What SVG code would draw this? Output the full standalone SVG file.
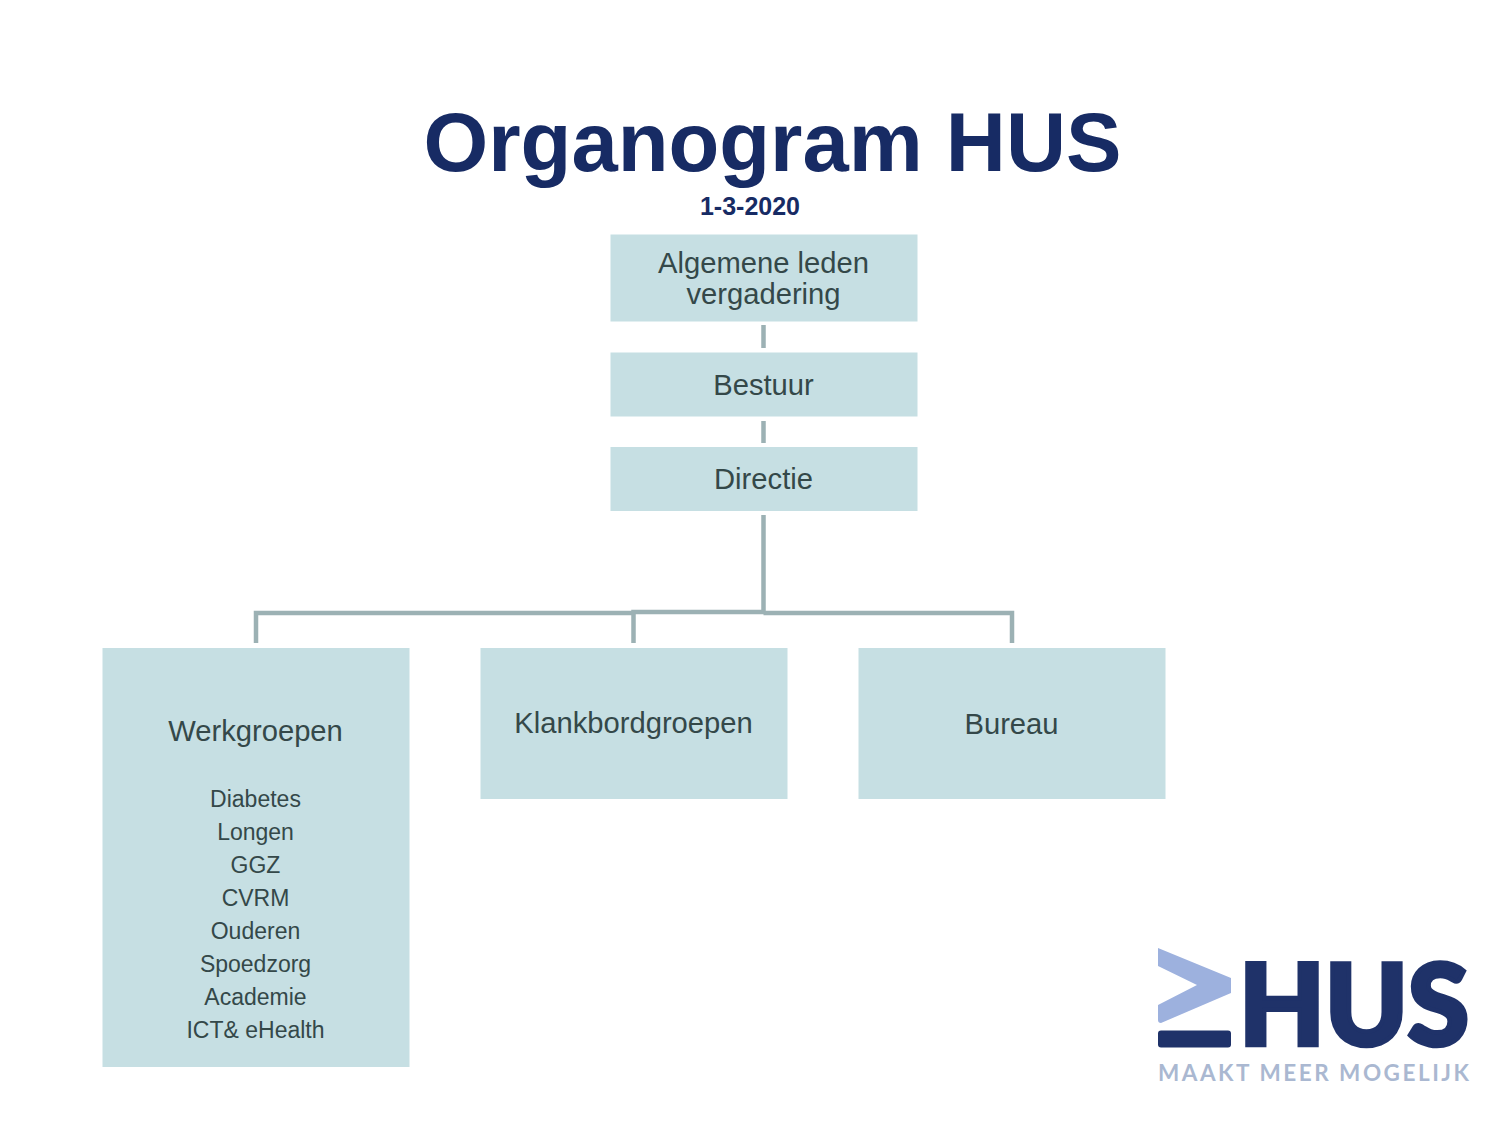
<svg xmlns="http://www.w3.org/2000/svg" width="1500" height="1125" viewBox="0 0 1500 1125">
<style>
text{font-family:"Liberation Sans",Arial,sans-serif;text-anchor:middle}
.box{fill:#c6dfe3}
.n{font-size:29.2px;fill:#344849}
.s{font-size:23px;fill:#344849}
.c{fill:none;stroke:#9cb1b4;stroke-width:4.500}
.l{font-family:Lato,"Liberation Sans",sans-serif}
</style>
<rect width="1500" height="1125" fill="#fff"/>
<g id="title">
<text x="772.500" y="171" font-size="83.200" font-weight="700" fill="#172b64">Organogram HUS</text>
<text x="750" y="215" font-size="25" font-weight="700" fill="#172b64">1-3-2020</text>
</g>
<g id="connectors">
<path class="c" d="M763.500 325V348M763.500 421V443M763.500 515V612M256 643V613H633.500M633.500 643V612H763.500M763.500 613H1012V643"/>
</g>
<g id="node-alv"><rect class="box" x="610.500" y="234.500" width="307" height="87"/>
<text class="n" x="763.500" y="272.500">Algemene leden</text><text class="n" x="763.500" y="303.500">vergadering</text></g>
<g id="node-bestuur"><rect class="box" x="610.500" y="352.500" width="307" height="64"/>
<text class="n" x="763.500" y="394.500">Bestuur</text></g>
<g id="node-directie"><rect class="box" x="610.500" y="447" width="307" height="64"/>
<text class="n" x="763.500" y="488.500">Directie</text></g>
<g id="node-werkgroepen"><rect class="box" x="102.500" y="648" width="307" height="419"/>
<text class="n" x="255.500" y="740.500">Werkgroepen</text>
<text class="s" x="255.500" y="807">Diabetes</text>
<text class="s" x="255.500" y="840">Longen</text>
<text class="s" x="255.500" y="873">GGZ</text>
<text class="s" x="255.500" y="906">CVRM</text>
<text class="s" x="255.500" y="939">Ouderen</text>
<text class="s" x="255.500" y="972">Spoedzorg</text>
<text class="s" x="255.500" y="1004.500">Academie</text>
<text class="s" x="255.500" y="1037.500">ICT&amp; eHealth</text></g>
<g id="node-klankbordgroepen"><rect class="box" x="480.500" y="648" width="307" height="151"/>
<text class="n" x="633.500" y="732.500">Klankbordgroepen</text></g>
<g id="node-bureau"><rect class="box" x="858.500" y="648" width="307" height="151"/>
<text class="n" x="1011.500" y="733.500">Bureau</text></g>
<g id="logo">
<path d="M1158 948L1231 978V993L1161 1023Q1158 1023 1158 1020V1005L1197 985L1158 966Z" fill="#9db1de"/>
<rect x="1158" y="1030.500" width="73" height="17" rx="3" fill="#1f3269"/>
<text class="l" x="1354" y="1045" font-size="113" font-weight="900" textLength="230" lengthAdjust="spacingAndGlyphs" fill="#1f3269" stroke="#1f3269" stroke-width="4.500">HUS</text>
<text class="l" x="1313.500" y="1080.500" font-size="22.500" font-weight="700" textLength="311" fill="#aab8d1">MAAKT MEER MOGELIJK</text>
</g>
</svg>
